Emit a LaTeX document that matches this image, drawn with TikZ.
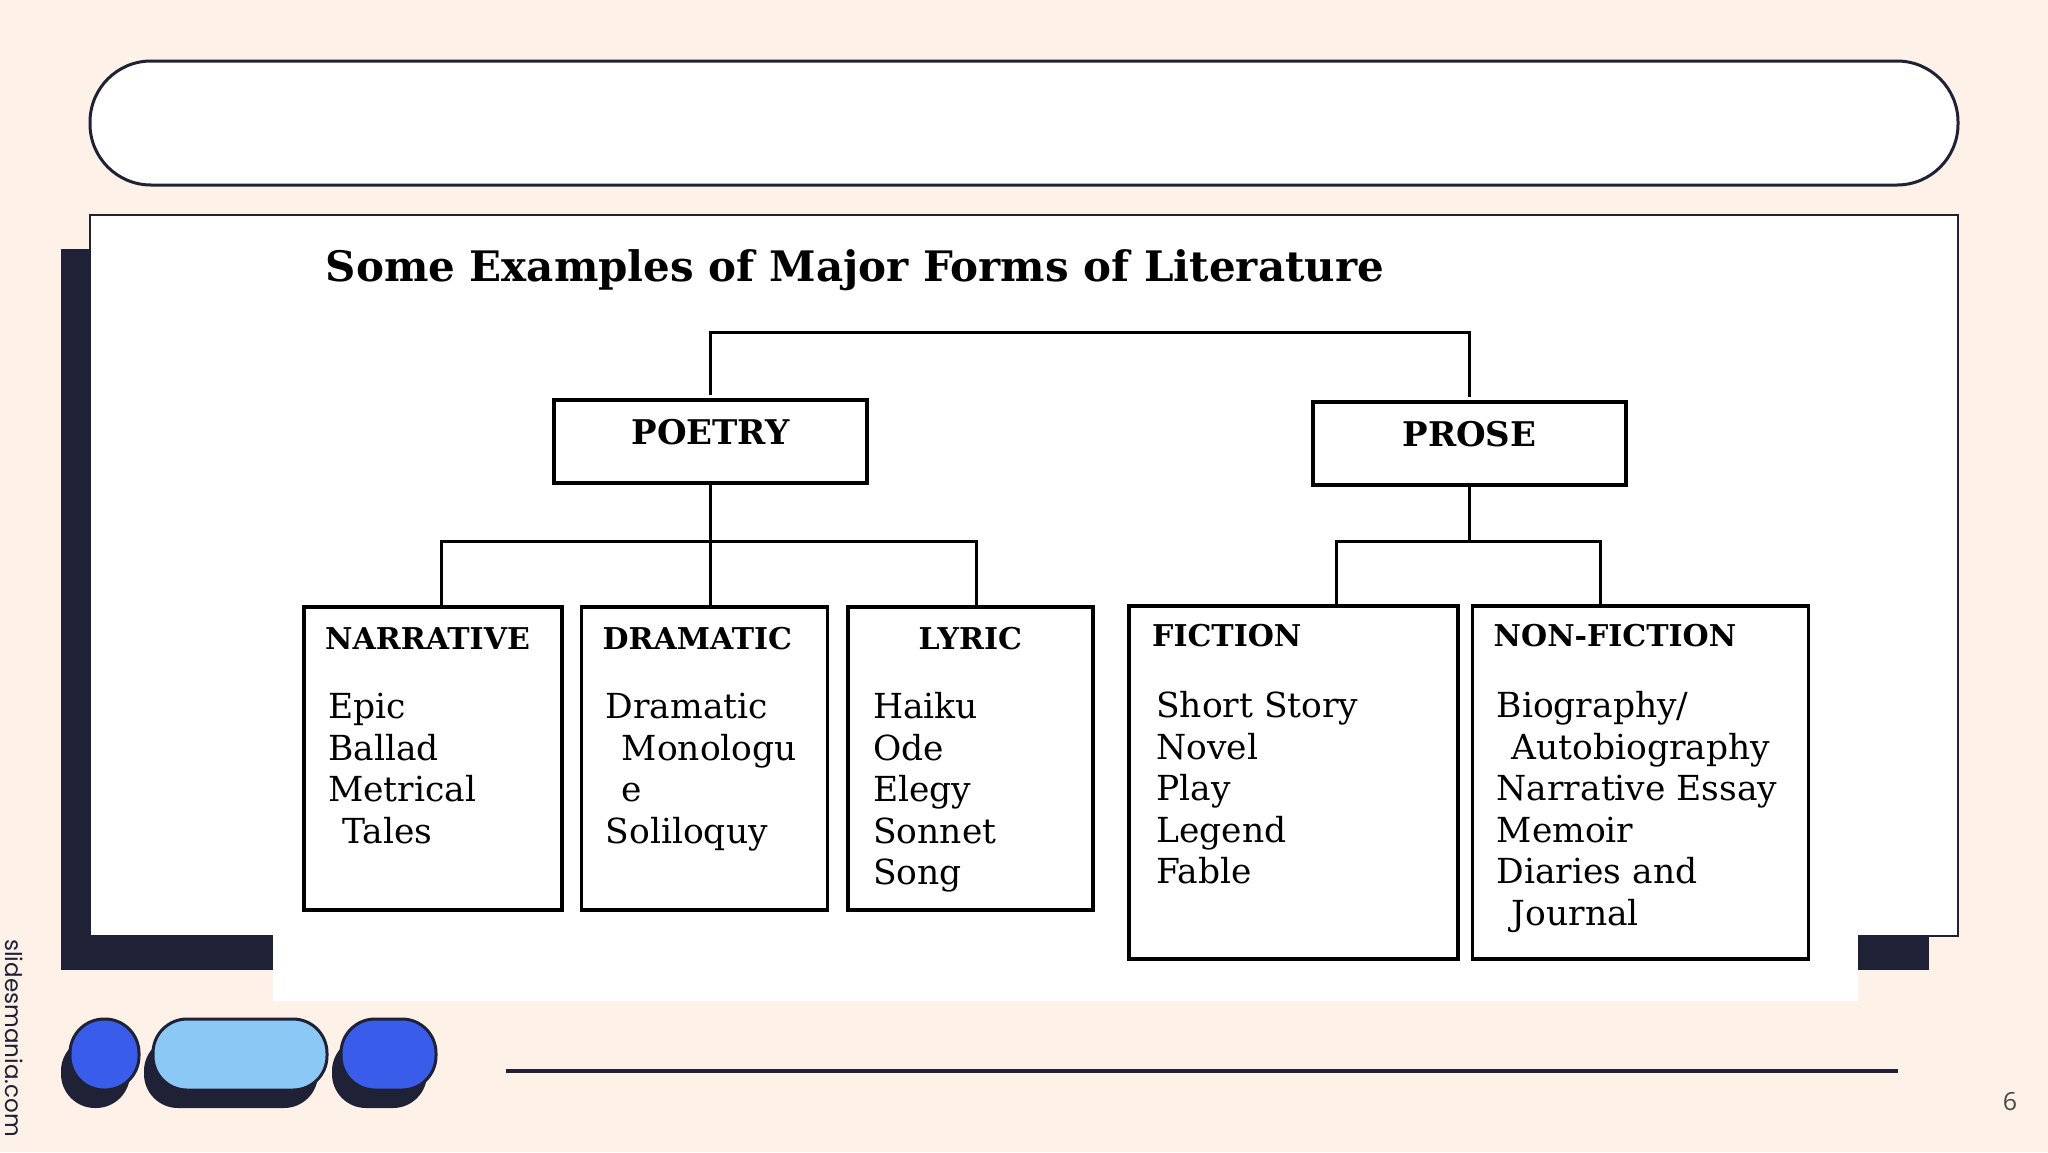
\documentclass[tikz,border=0pt]{standalone}
\usepackage{fontspec}
\usetikzlibrary{positioning}
\newfontfamily\chartfont{DejaVu Serif}
\newfontfamily\brandfont{Poppins}
\newfontfamily\numfont{Open Sans}
\definecolor{bg}{HTML}{FDF1E8}
\definecolor{navy}{HTML}{1F2236}
\definecolor{blueA}{HTML}{3A5CEB}
\definecolor{blueB}{HTML}{8CC8F6}
\definecolor{numgray}{HTML}{4A4A4A}

\begin{document}
\begin{tikzpicture}[x=1pt,y=-1pt,
    topbox/.style={draw,line width=3.5pt,inner sep=0pt,minimum width=313pt,
                   text height=45pt,text depth=38pt,
                   font=\chartfont\bfseries\fontsize{34}{40}\selectfont},
    catbox/.style={draw,line width=3.5pt,inner sep=0pt,anchor=north west},
    head/.style={inner sep=0pt,anchor=base west,
                 font=\chartfont\bfseries\fontsize{30}{36}\selectfont},
    item/.style={inner sep=0pt,anchor=base west,
                 font=\chartfont\fontsize{34.5}{42}\selectfont},
    link/.style={line width=3pt}]

  % slide background
  \fill[bg] (0,0) rectangle (2048,1152);
  \useasboundingbox (0,0) rectangle (2048,1152);
  \draw[navy,line width=3pt,fill=white,rounded corners=61pt] (90,61) rectangle (1958,185);
  \fill[navy] (61,249) rectangle (1929,970);
  \draw[navy,line width=2pt,fill=white] (90,215) rectangle (1958,936);
  \fill[white] (273,218) rectangle (1858,1001);

  % pills and rule at the bottom
  \foreach \a/\b/\c in {70/139/blueA,153/327/blueB,341/436/blueA} {
    \fill[navy,rounded corners=34pt] (\a-9,1037) rectangle (\b-9,1108);
    \draw[navy,line width=3pt,fill=\c,rounded corners=34pt] (\a,1019) rectangle (\b,1090);
  }
  \draw[navy,line width=3.5pt] (506,1071) -- (1898,1071);
  \node[rotate=-90,font=\brandfont\fontsize{23}{28}\selectfont,text=navy] (brand) at (14,1038) {slidesmania.com};
  \node[font=\numfont\fontsize{25}{30}\selectfont,text=numgray] (pagenum) at (2010,1102) {6};

  % chart
  \node[anchor=base,font=\chartfont\bfseries\fontsize{42}{50}\selectfont] (title) at (855,281)
       {Some Examples of Major Forms of Literature};

  \node[topbox,anchor=north] (poetry) at (710.5,398) {POETRY};
  \node[topbox,anchor=north] (prose)  at (1469.5,400) {PROSE};

  \node[catbox,minimum width=258pt,minimum height=303pt] (nar) at (302,605) {};
  \node[catbox,minimum width=246pt,minimum height=303pt] (dram) [right=16pt of nar] {};
  \node[catbox,minimum width=245pt,minimum height=303pt] (lyr)  [right=17pt of dram] {};
  \node[catbox,minimum width=329pt,minimum height=353pt] (fic)  at (1127,604) {};
  \node[catbox,minimum width=336pt,minimum height=353pt] (non)  [right=11pt of fic] {};

  \draw[link,shorten <=3pt,shorten >=3pt] (poetry.north) -- ++(0,-66) -| (prose.north);
  \draw[link] (poetry.south) -- (poetry.south |- dram.north);
  \draw[link] ([xshift=9pt]nar.north) -- ++(0,-64) -| ([xshift=6pt]lyr.north);
  \draw[link] (prose.south) -- ++(0,56.5);
  \draw[link] ([xshift=43pt]fic.north) -- ++(0,-63) -| ([xshift=-40pt]non.north);

  % headings
  \node[head] (nar-h)  at ([shift={(23,44)}]nar.north west) {NARRATIVE};
  \node[head] (dram-h) at ([shift={(23,44)}]dram.north west) {DRAMATIC};
  \node[head,anchor=base] (lyr-h) at ([shift={(0,44)}]lyr.north) {LYRIC};
  \node[head] (fic-h)  at ([shift={(25,42)}]fic.north west) {FICTION};
  \node[head] (non-h)  at ([shift={(23,42)}]non.north west) {NON-FICTION};

  % entries
  \foreach \t [count=\i from 0] in {Epic,Ballad,Metrical,\hspace{14pt}Tales}
    \node[item] (nar-\i) at ([shift={(26,113.5+41.5*\i)}]nar.north west) {\t};
  \foreach \t [count=\i from 0] in {Dramatic,\hspace{16pt}Monologu,\hspace{16pt}e,Soliloquy}
    \node[item] (dram-\i) at ([shift={(26,113.5+41.5*\i)}]dram.north west) {\t};
  \foreach \t [count=\i from 0] in {Haiku,Ode,Elegy,Sonnet,Song}
    \node[item] (lyr-\i) at ([shift={(27,113.5+41.5*\i)}]lyr.north west) {\t};
  \foreach \t [count=\i from 0] in {Short Story,Novel,Play,Legend,Fable}
    \node[item] (fic-\i) at ([shift={(29,113.5+41.5*\i)}]fic.north west) {\t};
  \foreach \t [count=\i from 0] in {Biography/,\hspace{15pt}Autobiography,Narrative Essay,Memoir,Diaries and,\hspace{15pt}Journal}
    \node[item] (non-\i) at ([shift={(26,113.5+41.5*\i)}]non.north west) {\t};
\end{tikzpicture}
\end{document}
